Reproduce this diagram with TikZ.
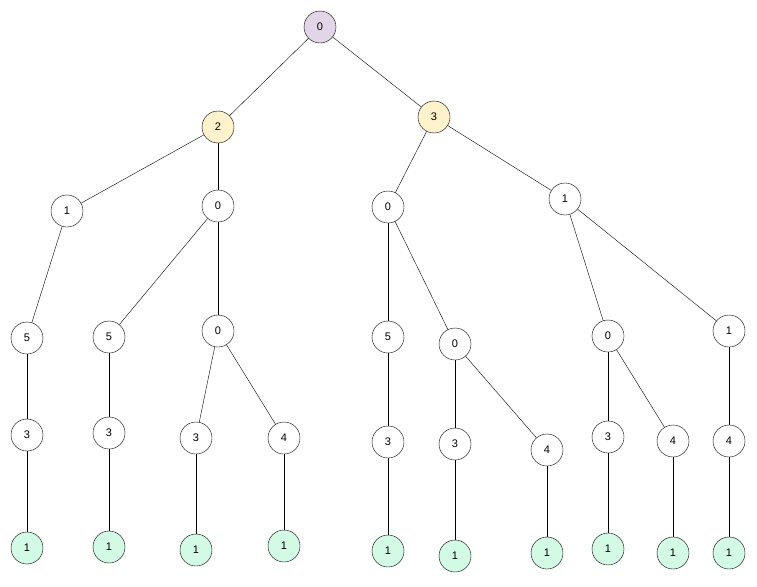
\documentclass[tikz,border=0pt]{standalone}
\usepackage{fontspec}
\setmainfont{Liberation Sans}
\begin{document}
\begin{tikzpicture}[x=1pt,y=-1pt,
  nd/.style={circle,draw,fill=white,minimum size=32pt,inner sep=0pt,font=\fontsize{11}{13}\selectfont},
  pur/.style={nd,fill=purple!15!blue!5!white,fill={rgb,255:red,225;green,213;blue,231}},
  yel/.style={nd,fill={rgb,255:red,255;green,242;blue,204}},
  grn/.style={nd,fill={rgb,255:red,210;green,250;blue,228}}]
\useasboundingbox (0,0) rectangle (757,586);
\node[pur] (r) at (320,27) {0};
\node[yel] (a) at (218,127) {2};
\node[yel] (b) at (434,117) {3};
\node[nd] (a1) at (67,211) {1};
\node[nd] (a0) at (218,206) {0};
\node[nd] (b0) at (388,207) {0};
\node[nd] (b1) at (565,199) {1};
\node[nd] (c1) at (27,338) {5};
\node[nd] (c2) at (109,337) {5};
\node[nd] (c3) at (218,331) {0};
\node[nd] (c4) at (388,337) {5};
\node[nd] (c5) at (455,344) {0};
\node[nd] (c6) at (608,336) {0};
\node[nd] (c7) at (729,331) {1};
\node[nd] (d1) at (27,435) {3};
\node[nd] (d2) at (109,433) {3};
\node[nd] (d3) at (196,438) {3};
\node[nd] (d4) at (284,438) {4};
\node[nd] (d5) at (388,442) {3};
\node[nd] (d6) at (455,444) {3};
\node[nd] (d7) at (547,450) {4};
\node[nd] (d8) at (608,437) {3};
\node[nd] (d9) at (673,441) {4};
\node[nd] (d10) at (729,441) {4};
\node[grn] (e1) at (27,548) {1};
\node[grn] (e2) at (109,547) {1};
\node[grn] (e3) at (196,550) {1};
\node[grn] (e4) at (284,546) {1};
\node[grn] (e5) at (388,551) {1};
\node[grn] (e6) at (455,556) {1};
\node[grn] (e7) at (547,553) {1};
\node[grn] (e8) at (608,549) {1};
\node[grn] (e9) at (673,553) {1};
\node[grn] (e10) at (729,553) {1};
\foreach \u/\v in {r/a,r/b,a/a1,a/a0,b/b0,b/b1,a1/c1,a0/c2,a0/c3,b0/c4,b0/c5,b1/c6,b1/c7,
  c1/d1,c2/d2,c3/d3,c3/d4,c4/d5,c5/d6,c5/d7,c6/d8,c6/d9,c7/d10,
  d1/e1,d2/e2,d3/e3,d4/e4,d5/e5,d6/e6,d7/e7,d8/e8,d9/e9,d10/e10}
  \draw (\u) -- (\v);
\end{tikzpicture}
\end{document}
